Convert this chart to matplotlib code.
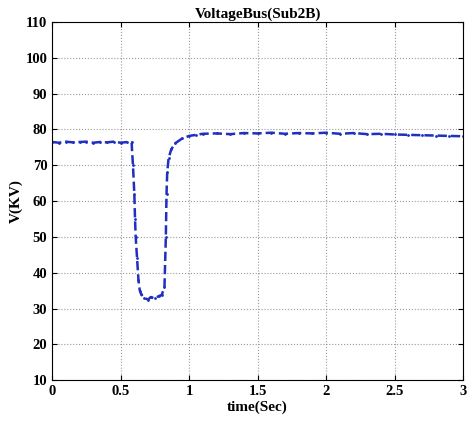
import matplotlib
matplotlib.use("Agg")
import matplotlib.pyplot as plt

time = [0.0, 0.05, 0.1, 0.15, 0.2, 0.25, 0.3, 0.35, 0.4, 0.45, 0.5, 0.55, 0.58, 0.59, 0.6, 0.605, 0.61, 0.62, 0.63, 0.64, 0.65,
        0.67, 0.7, 0.72, 0.75, 0.78, 0.8, 0.82, 0.83, 0.835, 0.84, 0.85, 0.87, 0.9, 0.95, 1.0, 1.05, 1.1, 1.2, 1.3, 1.4, 1.5,
        1.6, 1.7, 1.8, 1.9, 2.0, 2.1, 2.2, 2.3, 2.4, 2.5, 2.6, 2.7, 2.8, 2.9, 3.0]
volt = [76.5, 76.3, 76.6, 76.4, 76.5, 76.6, 76.3, 76.5, 76.4, 76.6, 76.3, 76.5, 76.4, 70.0, 62.0, 55.0, 50.0, 44.0, 38.0, 35.0, 34.0,
        33.0, 32.5, 33.2, 32.8, 33.5, 33.8, 36.0, 50.0, 62.0, 68.0, 72.0, 74.5, 76.2, 77.5, 78.2, 78.5, 78.8, 78.9, 78.7, 79.0, 78.9,
        79.1, 78.8, 79.0, 78.9, 79.1, 78.8, 79.0, 78.7, 78.8, 78.6, 78.5, 78.4, 78.3, 78.2, 78.1]

plt.rcParams['font.family'] = ['Liberation Serif', 'DejaVu Serif']
fig = plt.figure(figsize=(4.74, 4.41), dpi=100)
ax = fig.add_axes([0.11, 0.138, 0.867, 0.812])
ax.plot(time, volt, color='#1f2fbf', lw=1.8, ls='--', marker='.', ms=2)
ax.set_xlim(0, 3)
ax.set_ylim(10, 110)
ax.set_xticks([0, 0.5, 1, 1.5, 2, 2.5, 3])
ax.set_xticklabels(['0', '0.5', '1', '1.5', '2', '2.5', '3'])
ax.set_yticks(range(10, 111, 10))
ax.grid(True, ls=':', color='#999999', lw=0.8)
ax.tick_params(direction='in', labelsize=10.5, top=True, right=True)
for lab in ax.get_xticklabels() + ax.get_yticklabels():
    lab.set_fontweight('bold')
ax.set_title('VoltageBus(Sub2B)', fontweight='bold', fontsize=11, pad=3)
ax.set_xlabel('time(Sec)', fontweight='bold', fontsize=11, labelpad=2)
ax.set_ylabel('V(KV)', fontweight='bold', fontsize=11, labelpad=2)
fig.savefig('out.png', dpi=100)
